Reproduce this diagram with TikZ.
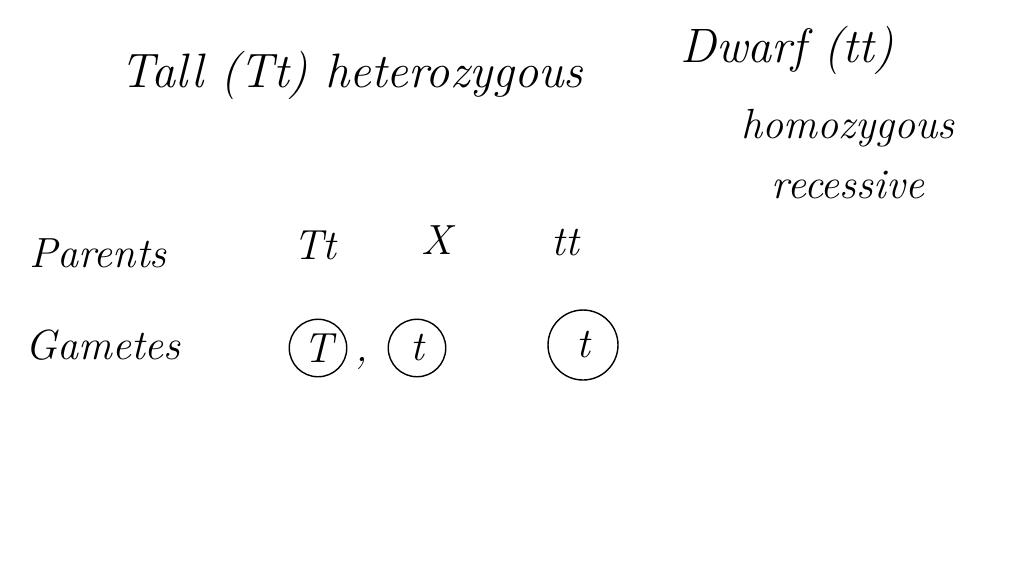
\documentclass[tikz,border=0pt]{standalone}
\usepackage{tikz}
\usetikzlibrary{positioning}

\begin{document}
\begin{tikzpicture}[
    x=0.02cm,
    y=-0.02cm,
    txt/.style={
        font=\fontsize{24}{28}\selectfont\itshape,
        inner sep=1pt
    },
    heading/.style={
        font=\fontsize{27.5}{32}\selectfont\itshape,
        inner sep=1pt
    },
    gamete/.style={
        circle,
        draw,
        thick,
        font=\fontsize{24}{28}\selectfont\itshape,
        minimum size=1.15cm,
        inner sep=0pt
    }
]
\useasboundingbox (0,0) rectangle (1024,576);

% Heading
\node [heading] (tall) at (352,75) {Tall (Tt) heterozygous};
\node [heading] (dwarf) at (787,50) {Dwarf (tt)};
\node [txt] (homo) at (848,128) {homozygous};
\node [txt, below=0.4cm of homo] (rec) {recessive};

% Parents
\node [txt] (parents) at (98,253) {Parents};
\node [txt] (ptall) at (315,245) {Tt};
\node [txt] (cross) at (437,240) {X};
\node [txt] (pdwarf) at (565,243) {tt};

% Gametes
\node [txt] (gametes) at (103,345) {Gametes};
\node [gamete] (gT) at (318,348) {T};
\node [txt] (comma) at (362,364) {,};
\node [gamete] (gt) at (417,348) {t};
\node [gamete, minimum size=1.4cm] (gd) at (583,345) {t};

\end{tikzpicture}
\end{document}
